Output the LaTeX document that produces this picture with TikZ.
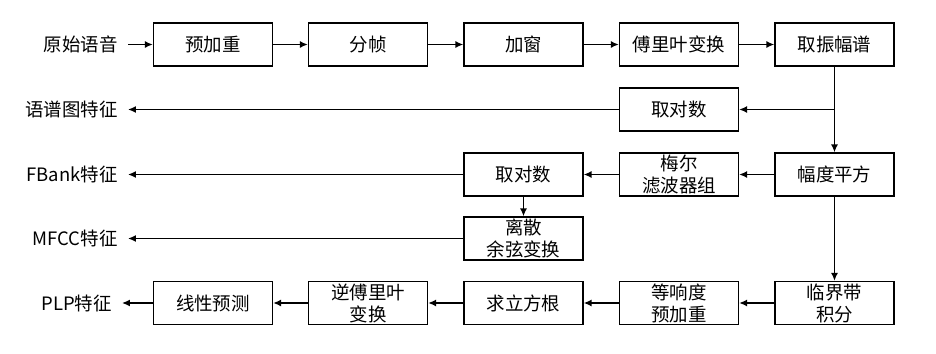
\documentclass[tikz,border=0pt]{standalone}
\usepackage{fontspec}
\newfontfamily\cjk{Noto Sans CJK SC}
\usetikzlibrary{arrows.meta,positioning}

\begin{document}
\begin{tikzpicture}[
    >={Latex[length=4.5pt,width=4pt]},
    boite/.style={
        rectangle,
        draw,
        line width=0.8pt,
        minimum width=2.38cm,
        minimum height=0.86cm,
        inner sep=0pt,
        align=center,
        font=\cjk\fontsize{10.5pt}{12.5pt}\selectfont
    },
    fleche/.style={
        ->,
        line width=0.8pt
    },
    sortie/.style={
        anchor=east,
        inner sep=0.2cm,
        font=\cjk\fontsize{10.5pt}{12.5pt}\selectfont
    }
]
\useasboundingbox (0,0) rectangle (18.72,7.06);

% Input
\node[sortie] (raw) at (2.56,6.17) {原始语音};

% First row
\node[boite] (pre) at (4.26,6.17) {预加重};
\node[boite] (frame) at (7.36,6.17) {分帧};
\node[boite] (win) at (10.47,6.17) {加窗};
\node[boite] (fft) at (13.58,6.17) {傅里叶变换};
\node[boite] (mag) at (16.69,6.17) {取振幅谱};

% Spectrogram branch
\node[boite] (log1) at (13.58,4.87) {取对数};
\node[sortie] (spec) at (2.56,4.87) {语谱图特征};

% FBank and MFCC branch
\node[boite] (pow) at (16.69,3.57) {幅度平方};
\node[boite] (mel) at (13.58,3.57) {梅尔\\滤波器组};
\node[boite] (log2) at (10.47,3.57) {取对数};
\node[sortie] (fbank) at (2.56,3.57) {FBank特征};
\node[boite] (dct) at (10.47,2.29) {离散\\余弦变换};
\node[sortie] (mfcc) at (2.56,2.29) {MFCC特征};

% PLP branch
\node[boite] (cb) at (16.69,1.0) {临界带\\积分};
\node[boite] (eql) at (13.58,1.0) {等响度\\预加重};
\node[boite] (cube) at (10.47,1.0) {求立方根};
\node[boite] (ifft) at (7.36,1.0) {逆傅里叶\\变换};
\node[boite] (lpc) at (4.26,1.0) {线性预测};
\node[sortie] (plp) at (2.44,1.0) {PLP特征};

% Arrows of the first row
\draw[fleche] (raw) -- (pre);
\draw[fleche] (pre) -- (frame);
\draw[fleche] (frame) -- (win);
\draw[fleche] (win) -- (fft);
\draw[fleche] (fft) -- (mag);

% Spectrogram arrows
\draw[fleche] (mag) -- (pow);
\coordinate (br) at (mag.south |- log1);
\draw[fleche] (br) -- (log1);
\draw[fleche] (log1) -- (spec);

% FBank and MFCC arrows
\draw[fleche] (pow) -- (mel);
\draw[fleche] (mel) -- (log2);
\draw[fleche] (log2) -- (fbank);
\draw[fleche] (log2) -- (dct);
\draw[fleche] (dct) -- (mfcc);

% PLP arrows
\draw[fleche] (pow) -- (cb);
\draw[fleche] (cb) -- (eql);
\draw[fleche] (eql) -- (cube);
\draw[fleche] (cube) -- (ifft);
\draw[fleche] (ifft) -- (lpc);
\draw[fleche] (lpc) -- (plp);

\end{tikzpicture}
\end{document}
